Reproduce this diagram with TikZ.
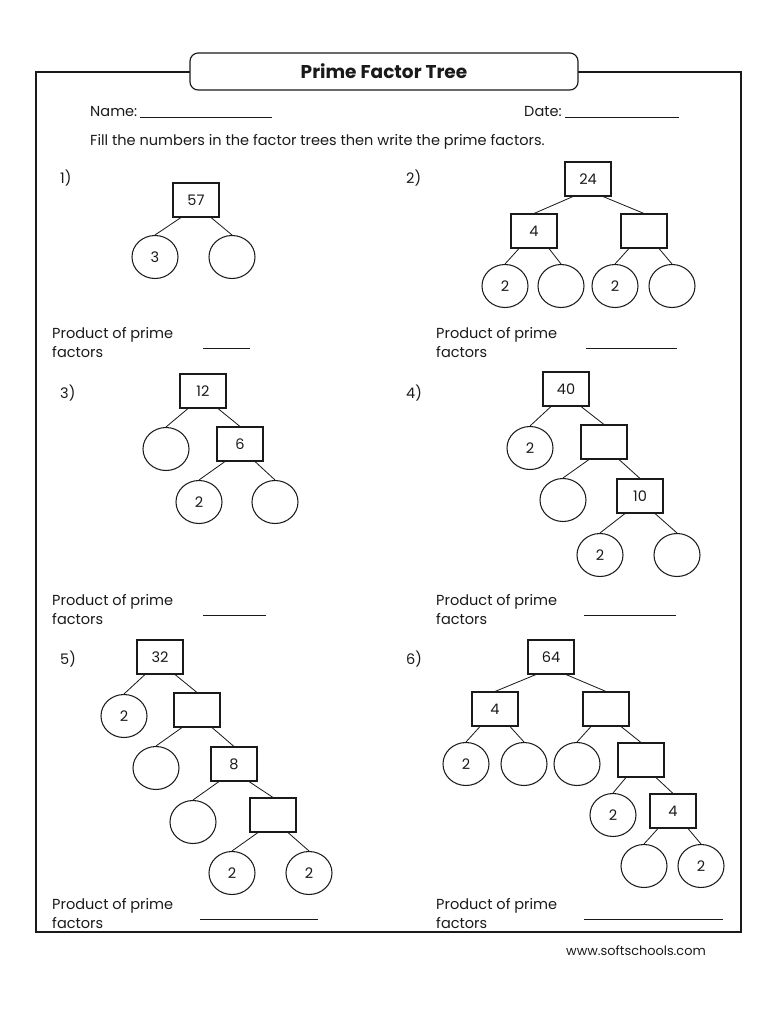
\documentclass[tikz,border=0pt]{standalone}
\usepackage{fontspec}
\setmainfont{Poppins}
\usepackage{tikz}
\usetikzlibrary{shapes.geometric}
\definecolor{InkBlack}{HTML}{1A1A1A}

\begin{document}
\begin{tikzpicture}[
  x=0.03cm, y=-0.03cm,
  font=\fontsize{12.4}{14}\selectfont, color=InkBlack,
  titlebox/.style={draw=InkBlack, line width=1pt, rounded corners=7pt, fill=white, minimum width=11.64cm, minimum height=1.11cm, font=\fontsize{15.8}{18}\selectfont\bfseries},
  fbox/.style={draw=InkBlack, line width=0.9pt, minimum width=1.38cm, minimum height=1.02cm, inner sep=0pt},
  fcirc/.style={draw=InkBlack, ellipse, line width=0.9pt, minimum width=1.38cm, minimum height=1.29cm, inner sep=0pt},
  txt/.style={anchor=base west, inner sep=0pt},
  link/.style={draw=InkBlack, line width=0.7pt},
  rule/.style={draw=InkBlack, line width=0.7pt}
]
  \useasboundingbox (0,0) rectangle (768,1024);
  % Page frame and heading.
  \draw[line width=1.1pt] (36,72) rectangle (741,932);
  \node[titlebox] (title) at (384,71.5) {Prime Factor Tree};

  \node[txt] (name) at (90,116) {Name:};
  \draw[rule] (140,117) -- (272,117);
  \node[txt] (date) at (524,116) {Date:};
  \draw[rule] (565,117) -- (679,117);
  \node[txt] (task) at (90,145) {Fill the numbers in the factor trees then write the prime factors.};

  \node[anchor=west, inner sep=0pt] (n1) at (60,178) {1)};
  \node[anchor=west, inner sep=0pt] (n2) at (406,178) {2)};
  \node[anchor=west, inner sep=0pt] (n3) at (60,393) {3)};
  \node[anchor=west, inner sep=0pt] (n4) at (406,393) {4)};
  \node[anchor=west, inner sep=0pt] (n5) at (60,659) {5)};
  \node[anchor=west, inner sep=0pt] (n6) at (406,659) {6)};

  % Tree 1
  \node[fbox] (q1top) at (196,200) {57};
  \node[fcirc] (q1l) at (155,257) {3};
  \node[fcirc] (q1r) at (232,257) {};
  \draw[link] ([xshift=-4.5mm]q1top.south) -- (q1l.north);
  \draw[link] ([xshift=4.5mm]q1top.south) -- (q1r.north);

  % Tree 2
  \node[fbox] (q2top) at (588,179) {24};
  \node[fbox] (q2l) at (534,231) {4};
  \node[fbox] (q2r) at (644,231) {};
  \node[fcirc] (q2ll) at (505,286) {2};
  \node[fcirc] (q2lr) at (561,286) {};
  \node[fcirc] (q2rl) at (615,286) {2};
  \node[fcirc] (q2rr) at (672,286) {};
  \draw[link] ([xshift=-4.5mm]q2top.south) -- (q2l.north);
  \draw[link] ([xshift=4.5mm]q2top.south) -- (q2r.north);
  \draw[link] ([xshift=-4.5mm]q2l.south) -- (q2ll.north);
  \draw[link] ([xshift=4.5mm]q2l.south) -- (q2lr.north);
  \draw[link] ([xshift=-4.5mm]q2r.south) -- (q2rl.north);
  \draw[link] ([xshift=4.5mm]q2r.south) -- (q2rr.north);

  % Tree 3
  \node[fbox] (q3top) at (203,391) {12};
  \node[fcirc] (q3l) at (166,449) {};
  \node[fbox] (q3r) at (240,444) {6};
  \node[fcirc] (q3rl) at (199,502) {2};
  \node[fcirc] (q3rr) at (275,502) {};
  \draw[link] ([xshift=-4.5mm]q3top.south) -- (q3l.north);
  \draw[link] ([xshift=4.5mm]q3top.south) -- (q3r.north);
  \draw[link] ([xshift=-4.5mm]q3r.south) -- (q3rl.north);
  \draw[link] ([xshift=4.5mm]q3r.south) -- (q3rr.north);

  % Tree 4
  \node[fbox] (q4top) at (566,389) {40};
  \node[fcirc] (q4l) at (530,448) {2};
  \node[fbox] (q4r) at (604,442) {};
  \node[fcirc] (q4rl) at (563,500) {};
  \node[fbox] (q4rr) at (640,496) {10};
  \node[fcirc] (q4rrl) at (600,555) {2};
  \node[fcirc] (q4rrr) at (677,555) {};
  \draw[link] ([xshift=-4.5mm]q4top.south) -- (q4l.north);
  \draw[link] ([xshift=4.5mm]q4top.south) -- (q4r.north);
  \draw[link] ([xshift=-4.5mm]q4r.south) -- (q4rl.north);
  \draw[link] ([xshift=4.5mm]q4r.south) -- (q4rr.north);
  \draw[link] ([xshift=-4.5mm]q4rr.south) -- (q4rrl.north);
  \draw[link] ([xshift=4.5mm]q4rr.south) -- (q4rrr.north);

  % Tree 5
  \node[fbox] (q5top) at (160,657) {32};
  \node[fcirc] (q5l) at (124,716) {2};
  \node[fbox] (q5r) at (197,710) {};
  \node[fcirc] (q5rl) at (156,768) {};
  \node[fbox] (q5rr) at (234,764) {8};
  \node[fcirc] (q5rrl) at (193,822) {};
  \node[fbox] (q5rrr) at (273,815) {};
  \node[fcirc] (q5rrrl) at (232,873) {2};
  \node[fcirc] (q5rrrr) at (309,873) {2};
  \draw[link] ([xshift=-4.5mm]q5top.south) -- (q5l.north);
  \draw[link] ([xshift=4.5mm]q5top.south) -- (q5r.north);
  \draw[link] ([xshift=-4.5mm]q5r.south) -- (q5rl.north);
  \draw[link] ([xshift=4.5mm]q5r.south) -- (q5rr.north);
  \draw[link] ([xshift=-4.5mm]q5rr.south) -- (q5rrl.north);
  \draw[link] ([xshift=4.5mm]q5rr.south) -- (q5rrr.north);
  \draw[link] ([xshift=-4.5mm]q5rrr.south) -- (q5rrrl.north);
  \draw[link] ([xshift=4.5mm]q5rrr.south) -- (q5rrrr.north);

  % Tree 6
  \node[fbox] (q6top) at (551,657) {64};
  \node[fbox] (q6l) at (495,709) {4};
  \node[fbox] (q6r) at (606,709) {};
  \node[fcirc] (q6ll) at (466,764) {2};
  \node[fcirc] (q6lr) at (524,764) {};
  \node[fcirc] (q6rl) at (577,764) {};
  \node[fbox] (q6rr) at (641,760) {};
  \node[fcirc] (q6rrl) at (613,815) {2};
  \node[fbox] (q6rrr) at (673,811) {4};
  \node[fcirc] (q6rrrl) at (644,866) {};
  \node[fcirc] (q6rrrr) at (701,866) {2};
  \draw[link] ([xshift=-4.5mm]q6top.south) -- (q6l.north);
  \draw[link] ([xshift=4.5mm]q6top.south) -- (q6r.north);
  \draw[link] ([xshift=-4.5mm]q6l.south) -- (q6ll.north);
  \draw[link] ([xshift=4.5mm]q6l.south) -- (q6lr.north);
  \draw[link] ([xshift=-4.5mm]q6r.south) -- (q6rl.north);
  \draw[link] ([xshift=4.5mm]q6r.south) -- (q6rr.north);
  \draw[link] ([xshift=-4.5mm]q6rr.south) -- (q6rrl.north);
  \draw[link] ([xshift=4.5mm]q6rr.south) -- (q6rrr.north);
  \draw[link] ([xshift=-4.5mm]q6rrr.south) -- (q6rrrl.north);
  \draw[link] ([xshift=4.5mm]q6rrr.south) -- (q6rrrr.north);

  % Answer lines under each tree.
  \node[txt] (p1) at (52,338) {Product of prime};
  \node[txt] (f1) at (52,357) {factors};
  \draw[rule] (203,348) -- (250,348);
  \node[txt] (p2) at (436,338) {Product of prime};
  \node[txt] (f2) at (436,357) {factors};
  \draw[rule] (586,348) -- (677,348);
  \node[txt] (p3) at (52,605) {Product of prime};
  \node[txt] (f3) at (52,624) {factors};
  \draw[rule] (203,615) -- (266,615);
  \node[txt] (p4) at (436,605) {Product of prime};
  \node[txt] (f4) at (436,624) {factors};
  \draw[rule] (584,615) -- (676,615);
  \node[txt] (p5) at (52,909) {Product of prime};
  \node[txt] (f5) at (52,928) {factors};
  \draw[rule] (200,919) -- (318,919);
  \node[txt] (p6) at (436,909) {Product of prime};
  \node[txt] (f6) at (436,928) {factors};
  \draw[rule] (584,919) -- (723,919);

  \node[txt, font=\fontsize{11}{13}\selectfont] (site) at (566,955) {www.softschools.com};
\end{tikzpicture}
\end{document}
